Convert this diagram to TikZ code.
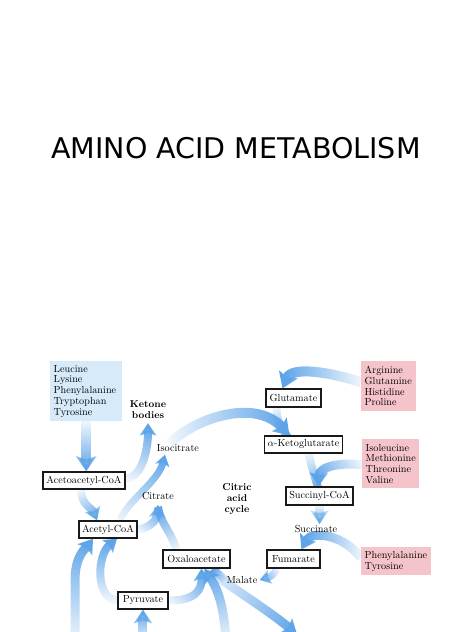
\documentclass[tikz,border=0pt]{standalone}
\usepackage{fontspec}
\newfontfamily\titlefont{DejaVu Sans}
\usetikzlibrary{arrows.meta,fadings,calc}
\tikzfading[name=flowfade, left color=transparent!90, right color=transparent!0]
\definecolor{flowblue}{RGB}{92,163,232}
\definecolor{boxblue}{RGB}{214,234,249}
\definecolor{boxpink}{RGB}{245,196,202}
\pgfdeclarelayer{bg}
\pgfsetlayers{bg,main}
\tikzset{
  flowline/.style={draw=flowblue, line width=9pt, path fading=flowfade, fit fading=false},
  flowtip/.style={-{Stealth[length=1pt 1.4, width=1pt 1.9, inset=0pt 0.3]}},
  met/.style={draw=black!90, line width=1.3pt, fill=white, inner xsep=3pt, inner ysep=0pt,
    minimum height=17pt, font=\fontsize{10.2}{12}\selectfont},
  lab/.style={inner sep=1pt, font=\fontsize{10.2}{12}\selectfont},
  boldlab/.style={inner sep=1pt, align=center, font=\fontsize{10}{11}\selectfont\bfseries},
  aa/.style={anchor=north west, inner xsep=3.5pt, inner ysep=0pt, align=left,
    font=\fontsize{10.2}{10.7}\selectfont}
}
\newcommand\fl[4]{%
  \path let \p1=#1, \p2=#2, \n1={atan2(\y2-\y1,\x2-\x1)}, \n2={veclen(\x2-\x1,\y2-\y1)} in
    \pgfextra{\xdef\flang{\n1}\xdef\fllen{\n2}};
  \coordinate (flmid) at ($#1!0.5!#2$);
  \draw[flowline, fading transform={shift={(flmid)}, rotate=\flang, xscale=\fllen/50, yscale=3}, #4] #1 #3 #2;
}
\begin{document}
\begin{tikzpicture}[x=1pt,y=-1pt]
\useasboundingbox (0,0) rectangle (474,632);
\begin{pgfonlayer}{bg}
\fill[white] (0,0) rectangle (474,632);
\end{pgfonlayer}

\node[font=\titlefont\fontsize{28.5}{34}\selectfont, anchor=base, inner sep=0pt] (title) at (236,158) {AMINO ACID METABOLISM};

% amino acid boxes
\node[aa, fill=boxblue, text width=65pt, minimum height=60pt] (leu) at (50,361)
  {Leucine\\Lysine\\Phenylalanine\\Tryptophan\\Tyrosine};
\node[aa, fill=boxpink, text width=48pt, minimum height=50pt] (arg) at (361,361)
  {Arginine\\Glutamine\\Histidine\\Proline};
\node[aa, fill=boxpink, text width=50pt, minimum height=49pt] (iso) at (362,439)
  {Isoleucine\\Methionine\\Threonine\\Valine};
\node[aa, fill=boxpink, text width=63pt, minimum height=28pt] (phe) at (361,547)
  {Phenylalanine\\Tyrosine};

% metabolite boxes
\node[met, minimum width=82pt] (acac) at (84,480.5) {Acetoacetyl-CoA};
\node[met, minimum width=58pt] (acetyl) at (108,529.5) {Acetyl-CoA};
\node[met, minimum width=67pt, minimum height=18pt] (oxa) at (196.5,559) {Oxaloacetate};
\node[met, minimum width=50pt] (pyr) at (143,600.5) {Pyruvate};
\node[met, minimum width=53pt, minimum height=18pt] (fum) at (293.5,559) {Fumarate};
\node[met, minimum width=67pt, minimum height=18pt] (sucoa) at (319.5,496) {Succinyl-CoA};
\node[met, minimum width=77pt] (akg) at (303.5,444.5) {$\alpha$-Ketoglutarate};
\node[met, minimum width=55pt, minimum height=18pt] (glu) at (293.5,398) {Glutamate};

% plain labels
\node[boldlab] (ket) at (148,410) {Ketone\\bodies};
\node[lab] (isoc) at (178,448) {Isocitrate};
\node[lab] (cit) at (158,496) {Citrate};
\node[boldlab] (tca) at (237,499) {Citric\\acid\\cycle};
\node[lab] (sucn) at (316,529) {Succinate};
\node[lab] (mal) at (242,580) {Malate};

\coordinate (in1) at (75,642);
\coordinate (in2) at (143,642);
\coordinate (in3) at (226,642);
\coordinate (out1) at (297,634);

\begin{pgfonlayer}{bg}
\fl{(leu.south)}{(leu.south |- acac.north)}{--}{flowtip, line width=10pt}
\fl{([yshift=2pt]acac.east)}{([yshift=-3pt]ket.south)}{.. controls (141,478) and (148,452) ..}{flowtip, line width=8pt}
\fl{([xshift=-3pt]acac.south)}{([xshift=-11pt]acetyl.north)}{.. controls (81,505) and (92,508) ..}{flowtip, line width=8pt}
\fl{([xshift=12pt]acetyl.north)}{([xshift=-13pt,yshift=-2pt]isoc.south)}{.. controls (128,500) and (158,482) ..}{flowtip, line width=7pt}
\fl{([xshift=-20pt]oxa.north)}{([yshift=-6pt]cit.south)}{.. controls (170,530) and (160,522) ..}{line width=8pt}
\fl{(acetyl.east)}{([yshift=-4pt]cit.south)}{.. controls (150,528) and (157,520) ..}{flowtip, line width=8pt}
\fl{([xshift=-8pt]isoc.north)}{([xshift=-14pt]akg.north)}{.. controls (195,418) and (255,398) ..}{flowtip, line width=10pt}
\fl{([yshift=4pt]arg.west)}{([xshift=-11pt]glu.north)}{.. controls (330,372) and (292,366) ..}{flowtip, line width=10pt}
\fl{([xshift=-17pt]glu.south)}{([xshift=-15pt,yshift=-3pt]akg.north)}{.. controls (277,420) ..}{line width=8pt}
\fl{([xshift=5pt]akg.south)}{([yshift=-6pt]sucoa.north)}{.. controls (312,468) ..}{line width=8pt}
\fl{([yshift=-1pt]iso.west)}{([xshift=-1pt]sucoa.north)}{.. controls (335,462) and (319,468) ..}{flowtip, line width=9pt}
\fl{(sucoa.south)}{(sucoa.south |- sucn.north)}{--}{flowtip, line width=9pt}
\fl{([yshift=3pt]phe.west)}{([xshift=8pt]fum.north)}{.. controls (345,535) and (312,530) ..}{flowtip, line width=9pt}
\fl{([xshift=-16pt]fum.south)}{([xshift=1pt]mal.east)}{.. controls (272,576) ..}{flowtip, line width=7pt}
\fl{(mal.west)}{([xshift=16pt]oxa.south)}{--}{line width=8pt}
\fl{([xshift=10pt]oxa.south)}{(out1)}{.. controls (235,590) and (265,608) ..}{flowtip, line width=9pt}
\fl{(in3)}{([xshift=8pt]oxa.south)}{.. controls (224,600) and (215,585) ..}{flowtip, line width=9pt}
\fl{(in1)}{([xshift=-15pt]acetyl.south)}{-- (75,580) .. controls (75,555) and (86,548) ..}{flowtip, line width=9pt}
\fl{(pyr.west)}{([xshift=9pt]acetyl.south)}{.. controls (96,600) and (96,556) ..}{flowtip, line width=8pt}
\fl{(in2)}{(pyr.south)}{--}{flowtip, line width=9pt}
\fl{(pyr.east)}{([xshift=5pt]oxa.south)}{.. controls (195,601) and (202,590) ..}{flowtip, line width=8pt}
\end{pgfonlayer}
\end{tikzpicture}
\end{document}
